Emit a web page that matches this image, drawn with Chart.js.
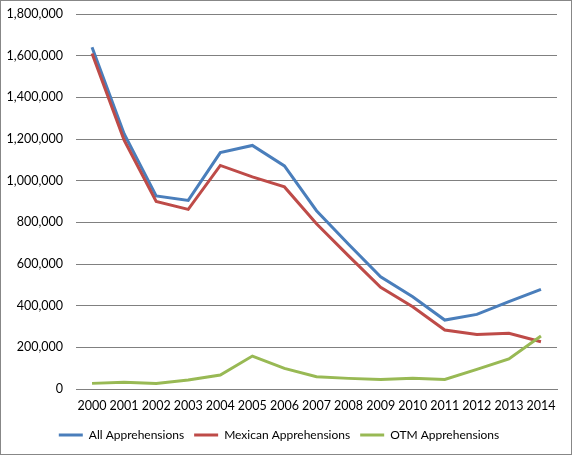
<!DOCTYPE html>
<html>
<head>
<meta charset="utf-8">
<script src="https://cdn.jsdelivr.net/npm/chart.js"></script>
<style>
  html, body { margin: 0; padding: 0; background: #fff; }
  #wrap { width: 572px; height: 455px; box-sizing: border-box; border: 1px solid #878787; }
  #chart { display: block; }
</style>
</head>
<body>
<div id="wrap"><canvas id="chart" width="570" height="453"></canvas></div>
<script>
// --- data ---
const years = ['2000', '2001', '2002', '2003', '2004', '2005', '2006', '2007', '2008', '2009', '2010', '2011', '2012', '2013', '2014'];
const allApprehensions = [1640000, 1225000, 927000, 905000, 1135000, 1169000, 1071000, 856000, 695000, 539000, 443000, 331000, 358000, 419000, 478000];
const mexicanApprehensions = [1610000, 1195000, 900000, 862000, 1073000, 1018000, 970000, 793000, 639000, 488000, 395000, 283000, 262000, 267000, 227000];
const otmApprehensions = [27000, 32000, 27000, 43000, 67000, 158000, 99000, 59000, 51000, 46000, 51000, 46000, 94000, 144000, 254000];
const seriesNames = ['All Apprehensions', 'Mexican Apprehensions', 'OTM Apprehensions'];
const yTicks = [0, 200000, 400000, 600000, 800000, 1000000, 1200000, 1400000, 1600000, 1800000];

const font = { family: 'Lato, "Open Sans", sans-serif', size: 12.5 };
const legendFont = { family: 'Lato, "Open Sans", sans-serif', size: 12 };
const gridColor = '#808080';

function line(label, data, color, order) {
    return {
        label: label,
        data: data,
        borderColor: color,
        backgroundColor: color,
        borderWidth: 3,
        pointRadius: 0,
        tension: 0,
        fill: false,
        order: order
    };
}

new Chart(document.getElementById('chart'), {
    type: 'line',
    data: {
        labels: years,
        datasets: [
            line(seriesNames[0], allApprehensions, '#4A7EBB', 3),
            line(seriesNames[1], mexicanApprehensions, '#BE4B48', 2),
            line(seriesNames[2], otmApprehensions, '#98B954', 1)
        ]
    },
    options: {
        responsive: false,
        animation: false,
        layout: { padding: { left: 0, right: 14, top: 13, bottom: 3 } },
        plugins: {
            tooltip: { enabled: false },
            legend: {
                position: 'bottom',
                labels: {
                    color: '#000',
                    font: legendFont,
                    usePointStyle: true,
                    pointStyle: 'line',
                    pointStyleWidth: 24,
                    padding: 10,
                    sort: (a, b) => a.datasetIndex - b.datasetIndex
                }
            }
        },
        scales: {
            x: {
                offset: true,
                grid: { display: false, drawTicks: false },
                border: { display: true, color: gridColor, width: 1 },
                ticks: { color: '#000', font: font, padding: 9, maxRotation: 0, autoSkip: false },
                afterFit: s => { s.height = 30; }
            },
            y: {
                min: 0,
                max: 1800000,
                grid: { color: gridColor, lineWidth: 1, drawTicks: false },
                border: { display: false },
                afterBuildTicks: s => { s.ticks = yTicks.map(v => ({ value: v })); },
                ticks: {
                    color: '#000',
                    font: font,
                    padding: 13,
                    callback: v => v.toLocaleString('en-US')
                },
                afterFit: s => { s.width = 75; s.paddingTop = 0; s.paddingBottom = 0; }
            }
        }
    }
});
</script>
</body>
</html>
